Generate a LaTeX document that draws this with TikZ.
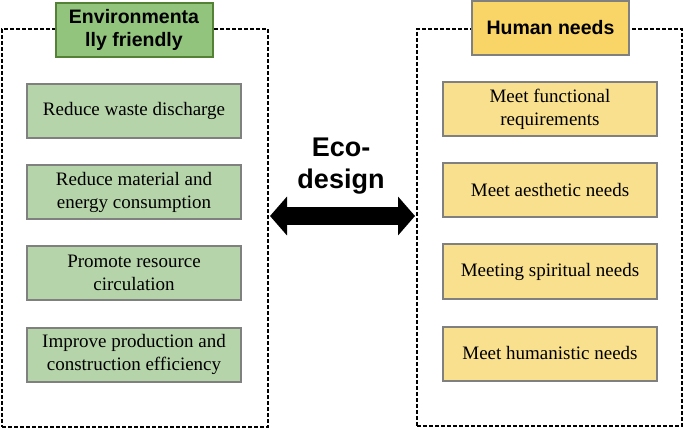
\documentclass[tikz,border=0pt]{standalone}
\usepackage{fontspec}
\setmainfont{Liberation Serif}
\setsansfont{Liberation Sans}
\usetikzlibrary{arrows.meta}
\definecolor{hgreen}{RGB}{147,196,125}
\definecolor{hgreenb}{RGB}{84,130,53}
\definecolor{igreen}{RGB}{182,212,170}
\definecolor{hyellow}{RGB}{249,212,102}
\definecolor{iyellow}{RGB}{248,224,142}
\definecolor{ibord}{RGB}{128,128,128}
\tikzset{
  dashbox/.style={draw=black, line width=1.5pt, dash pattern=on 4pt off 2pt, inner sep=0pt},
  headbox/.style={draw, line width=2pt, minimum width=157pt, minimum height=54pt, inner sep=0pt,
     align=center, font=\fontsize{19.5}{23}\selectfont\sffamily\bfseries},
  greenhead/.style={headbox, fill=hgreen, draw=hgreenb},
  yellowhead/.style={headbox, fill=hyellow, draw=ibord},
  itembox/.style={draw=ibord, line width=2pt, minimum width=214pt, minimum height=54pt, inner sep=0pt,
     align=center, font=\fontsize{19}{22.5}\selectfont},
  greenitem/.style={itembox, fill=igreen},
  yellowitem/.style={itembox, fill=iyellow},
  bigarrow/.style={line width=18pt, {Triangle[length=17pt, width=38pt]}-{Triangle[length=17pt, width=38pt]}},
  ecolabel/.style={align=center, font=\fontsize{27}{32}\selectfont\sffamily\bfseries}
}
\begin{document}
\begin{tikzpicture}[x=1pt,y=-1pt]
\useasboundingbox (0,0) rectangle (685,430);
% dashed frames
\node[dashbox, minimum width=266pt, minimum height=398pt] (lbox) at (135,228) {};
\node[dashbox, minimum width=265pt, minimum height=397pt] (rbox) at (549.5,227.5) {};
% headers
\node[greenhead] (lhead) at (134,30) {Environmenta\\lly friendly};
\node[yellowhead] (rhead) at (550.5,28) {Human needs};
% left items
\node[greenitem] (l1) at (134,111) {Reduce waste discharge};
\node[greenitem] (l2) at (134,192.5) {Reduce material and\\energy consumption};
\node[greenitem] (l3) at (134,273) {Promote resource\\circulation};
\node[greenitem] (l4) at (134,354.5) {Improve production and\\construction efficiency};
% right items
\node[yellowitem] (r1) at (550,109.5) {Meet functional\\requirements};
\node[yellowitem] (r2) at (550,190.5) {Meet aesthetic needs};
\node[yellowitem] (r3) at (550,271.5) {Meeting spiritual needs};
\node[yellowitem] (r4) at (550,353.5) {Meet humanistic needs};
% center
\node[ecolabel] (eco) at (341,166) {Eco-\\design};
\coordinate (al) at (270,216);
\coordinate (ar) at (415,216);
\draw[bigarrow] (al) -- (ar);
\end{tikzpicture}
\end{document}
